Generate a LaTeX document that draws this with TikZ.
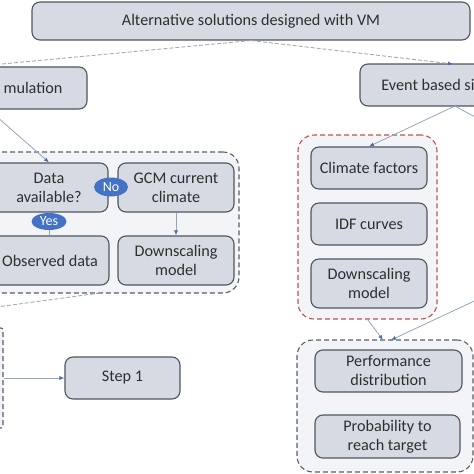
\documentclass[tikz,border=0pt]{standalone}
\usepackage{fontspec}
\setmainfont{Carlito}
\usetikzlibrary{arrows.meta,shapes.geometric}
\definecolor{boxfill}{HTML}{D6DBE3}
\definecolor{boxline}{HTML}{50555E}
\definecolor{grpfill}{HTML}{F3F4F7}
\definecolor{grpline}{HTML}{5A5F67}
\definecolor{redline}{HTML}{C0504D}
\definecolor{conn}{HTML}{93A5BF}
\definecolor{tipc}{HTML}{4A6FA5}
\definecolor{dashc}{HTML}{A3AAB6}
\definecolor{pill}{HTML}{4472C4}
\definecolor{txt}{HTML}{2E2E2E}
\begin{document}
\begin{tikzpicture}[x=1pt,y=-1pt,
  box/.style={draw=boxline,fill=boxfill,line width=1.1pt,rounded corners=8pt,
    align=center,text=txt,font=\fontsize{16.2}{19}\selectfont,inner sep=0pt},
  grp/.style={draw=grpline,fill=grpfill,line width=1.1pt,dash pattern=on 5pt off 3pt,
    rounded corners=16pt,inner sep=0pt},
  redgrp/.style={grp,draw=redline},
  pillnode/.style={ellipse,fill=pill,text=white,inner sep=0pt,
    font=\fontsize{14}{16}\selectfont},
  conline/.style={draw=conn,line width=0.8pt},
  arr/.style={conline,-{Latex[length=5pt,width=4pt,fill=tipc,color=tipc]}},
  dline/.style={draw=dashc,line width=0.9pt,dash pattern=on 4pt off 2pt}]
\useasboundingbox (0,0) rectangle (474,474);
% groups
\node[grp,minimum width=259pt,minimum height=141pt] (lgrp) at (109.5,222.5) {};
\node[grp,rounded corners=2pt,minimum width=103pt,minimum height=100pt] (offgrp) at (-48.5,378) {};
\node[redgrp,minimum width=139pt,minimum height=184pt] (rgrp) at (367.5,227) {};
\node[grp,minimum width=176pt,minimum height=132pt] (bgrp) at (385,406) {};
% boxes
\node[box,minimum width=438pt,minimum height=38pt] (top) at (251,21) {Alternative solutions designed with VM};
\node[box,minimum width=108pt,minimum height=42pt] (sim) at (33,88) {mulation};
\node[box,minimum width=136pt,minimum height=42pt] (ev) at (428,85) {Event based si};
\node[box,minimum width=118pt,minimum height=49pt] (da) at (49,187.5) {Data\\available?};
\node[box,minimum width=116pt,minimum height=49pt] (gcm) at (176,187.5) {GCM current\\climate};
\node[box,minimum width=118pt,minimum height=49pt] (obs) at (50,260.5) {Observed data};
\node[box,minimum width=116pt,minimum height=49pt] (dsl) at (176,260.5) {Downscaling\\model};
\node[box,minimum width=115pt,minimum height=42pt] (step) at (122.5,378) {Step 1};
\node[box,minimum width=116pt,minimum height=42pt] (cf) at (369,168) {Climate factors};
\node[box,minimum width=116pt,minimum height=42pt] (idf) at (369,224) {IDF curves};
\node[box,minimum width=116pt,minimum height=49pt] (dsr) at (369,283.5) {Downscaling\\model};
\node[box,minimum width=147pt,minimum height=42pt] (perf) at (388.5,371) {Performance\\distribution};
\node[box,minimum width=145pt,minimum height=43pt] (prob) at (387.5,436.5) {Probability to\\reach target};
% coordinates
\coordinate (simtop) at (-30,67);
\coordinate (evtop) at (453,64);
\coordinate (simbot) at (-12,109);
\coordinate (lgb) at (100,293);
\coordinate (lgoff) at (-40,312);
\coordinate (evs) at (455,106);
\coordinate (evoff) at (495,128);
\coordinate (bin1) at (383,340);
\coordinate (bin2) at (391,340);
\coordinate (rin) at (485,296);
% connectors
\draw[dline] (top.south) -- (simtop);
\draw[dline,-{Latex[length=5pt,width=4pt,fill=tipc,color=tipc]}] (top.south) -- (evtop);
\draw[arr] (simbot) -- (da.north);
\draw[conline] (da.east) -- (gcm.west);
\draw[conline] (da.south) -- (obs.north -| da.south);
\draw[arr] (gcm.south) -- (dsl.north);
\draw[dline] (lgb) -- (lgoff);
\draw[arr] (offgrp.east) -- (step.west);
\draw[arr] (evs) -- (cf.north);
\draw[conline] (evs) -- (evoff);
\draw[arr] (rgrp.south) -- (bin1);
\draw[arr] (rin) -- (bin2);
% pills
\node[pillnode,minimum width=34pt,minimum height=19pt] (no) at (111,187) {No};
\node[pillnode,minimum width=35pt,minimum height=17pt] (yes) at (49,221.5) {Yes};
\end{tikzpicture}
\end{document}
